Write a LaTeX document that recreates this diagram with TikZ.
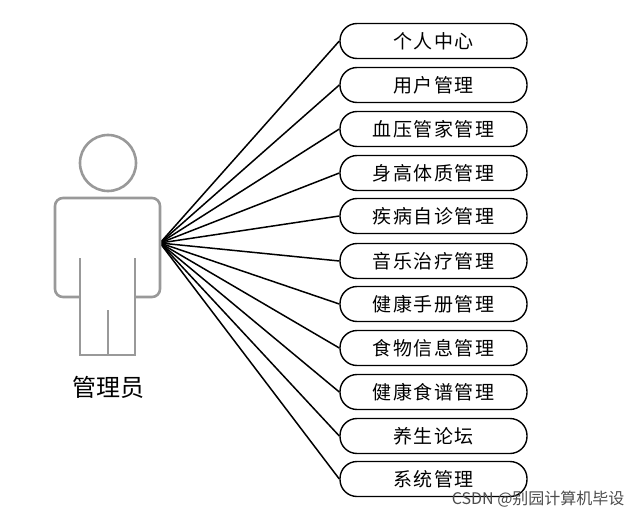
\documentclass[tikz,border=0pt]{standalone}
\usepackage{fontspec}
\newfontfamily\cjk[LetterSpace=8]{Noto Sans CJK SC}
\newfontfamily\cjkplain{Noto Sans CJK SC}
\begin{document}
\begin{tikzpicture}[x=1pt,y=-1pt,
  usecase/.style={draw,line width=1.4pt,rounded corners=17pt,minimum width=187pt,minimum height=35pt,font=\cjk\fontsize{19}{20}\selectfont,inner sep=0pt},
  link/.style={line width=1.5pt},
  actorline/.style={draw=gray!80,line width=2.6pt}]
\useasboundingbox (0,0) rectangle (640,519);
\coordinate (hub) at (160,243);
\foreach \i/\t/\y in {1/个人中心/41,2/用户管理/85,3/血压管家管理/129,4/身高体质管理/173,5/疾病自诊管理/216,6/音乐治疗管理/261,7/健康手册管理/304,8/食物信息管理/348,9/健康食谱管理/392,10/养生论坛/436,11/系统管理/479}{
  \node[usecase] (u\i) at (433.5,\y) {\t};
  \draw[link] (hub) -- (u\i.west);
}
\node[actorline,circle,minimum size=56pt,inner sep=0pt] (head) at (108,163) {};
\draw[actorline,rounded corners=8pt] (80,297) -- (55,297) -- (55,198) -- (160,198) -- (160,297) -- (135,297);
\draw[actorline] (80,258) -- (80,355) -- (135,355) -- (135,258);
\draw[actorline] (108,310) -- (108,355);
\node[font=\cjkplain\fontsize{24}{26}\selectfont] (actor) at (108,387) {管理员};
\node[font=\cjkplain\fontsize{16}{17}\selectfont,text=gray!60!black,anchor=east] (wm) at (628,499) {CSDN @别园计算机毕设};
\end{tikzpicture}
\end{document}
